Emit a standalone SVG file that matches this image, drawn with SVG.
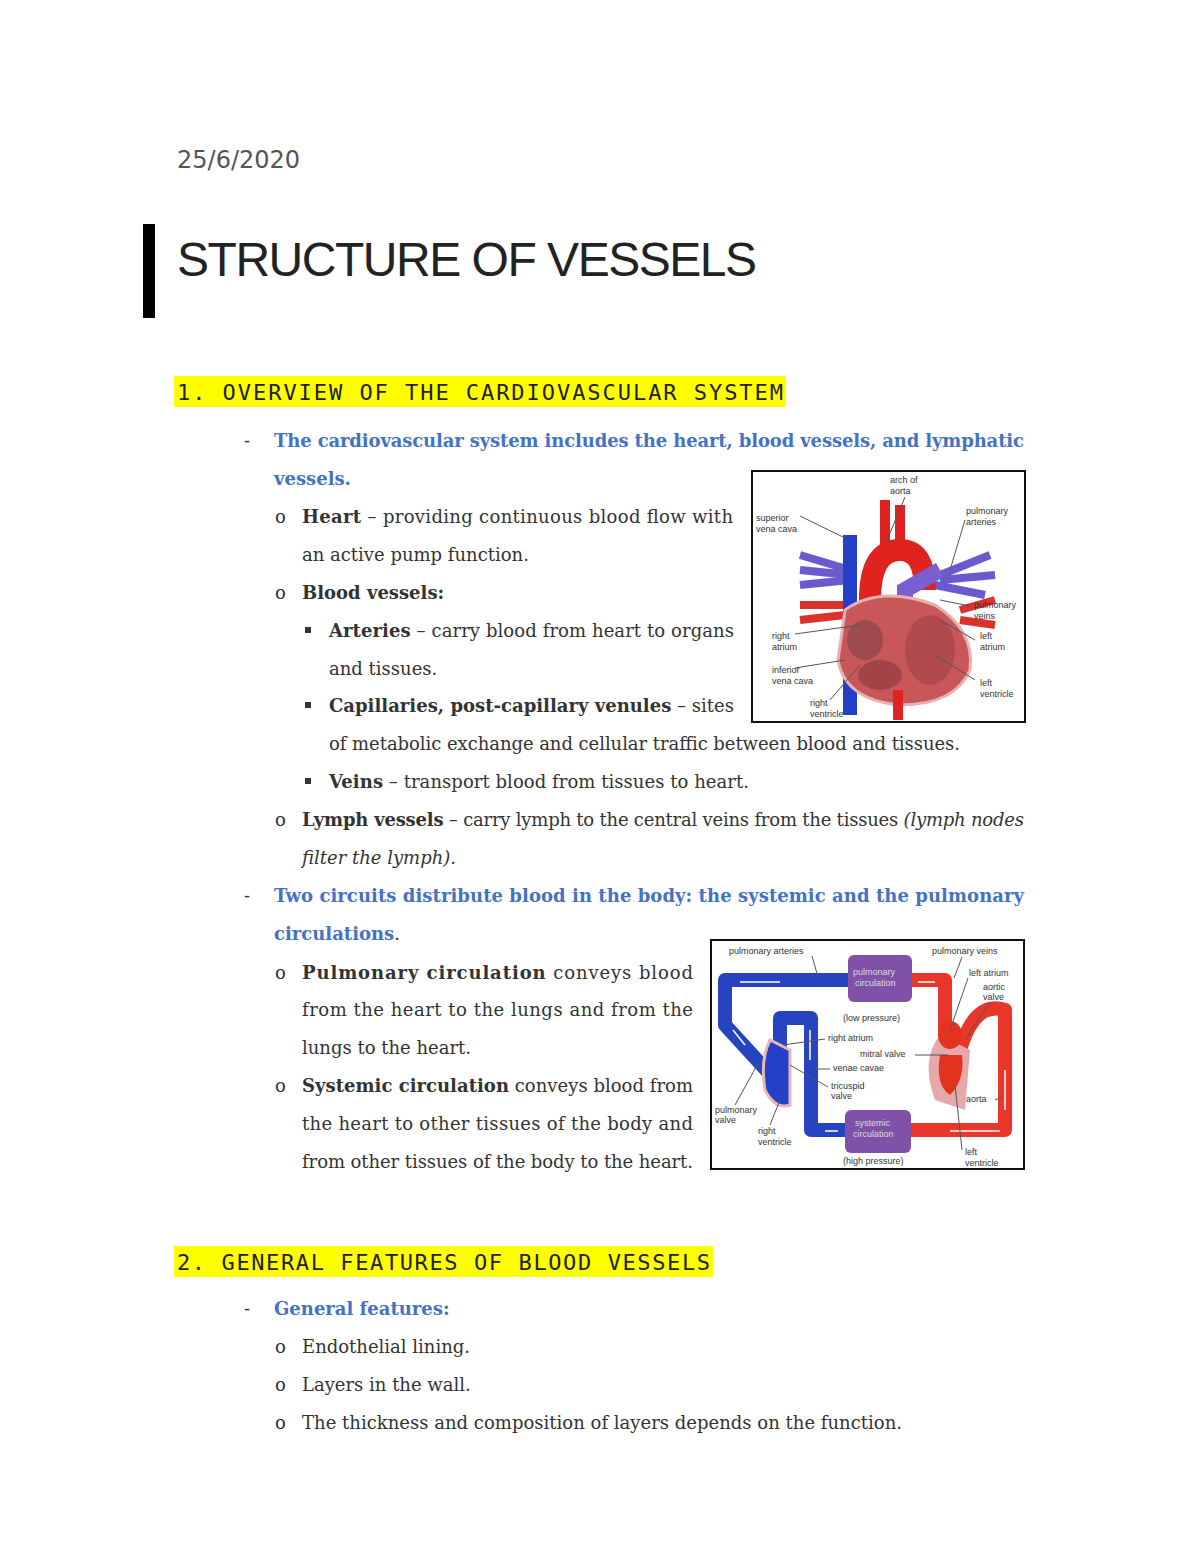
<svg xmlns="http://www.w3.org/2000/svg" width="1200" height="1553" viewBox="0 0 1200 1553">
<style>
.b{font-family:"DejaVu Serif","Liberation Serif",serif;font-size:18px;fill:#333}
.bb{font-weight:bold}
.blu{fill:#4472c4;font-weight:bold}
.h{font-family:"DejaVu Sans Mono","Liberation Mono",monospace;font-size:22px;fill:#222}
.l{font-family:"Liberation Sans",Arial,sans-serif;font-size:9px;fill:#333}
.ln{stroke:#555;stroke-width:1;fill:none}
.arr{stroke:#fff;stroke-width:1.5;fill:none}
</style>
<rect width="1200" height="1553" fill="#fff"/>
<text x="177" y="168" style="font-family:'DejaVu Sans','Liberation Sans',sans-serif;font-size:24px;fill:#555">25/6/2020</text>
<rect x="143" y="224" width="12" height="94" fill="#000"/>
<text x="177" y="276" textLength="580" style="font-family:'Liberation Sans',Arial,sans-serif;font-size:48px;fill:#222">STRUCTURE OF VESSELS</text>
<rect x="174" y="376" width="612" height="31" fill="#ffff00"/>
<text x="177" y="400" class="h" textLength="606">1. OVERVIEW OF THE CARDIOVASCULAR SYSTEM</text>
<g class="b">
<text x="244" y="447">-</text>
<text x="274" y="447" class="blu" textLength="750">The cardiovascular system includes the heart, blood vessels, and lymphatic</text>
<text x="274" y="485" class="blu">vessels.</text>
<text x="275" y="523">o</text><text x="302" y="523" textLength="431"><tspan class="bb">Heart</tspan> – providing continuous blood flow with</text>
<text x="302" y="561">an active pump function.</text>
<text x="275" y="599">o</text><text x="302" y="599" class="bb">Blood vessels:</text>
<rect x="305" y="627" width="6" height="6" fill="#333"/><text x="329" y="637" textLength="405"><tspan class="bb">Arteries</tspan> – carry blood from heart to organs</text>
<text x="329" y="675">and tissues.</text>
<rect x="305" y="702" width="6" height="6" fill="#333"/><text x="329" y="712" textLength="405"><tspan class="bb">Capillaries, post-capillary venules</tspan> – sites</text>
<text x="329" y="750" textLength="631">of metabolic exchange and cellular traffic between blood and tissues.</text>
<rect x="305" y="778" width="6" height="6" fill="#333"/><text x="329" y="788" textLength="420"><tspan class="bb">Veins</tspan> – transport blood from tissues to heart.</text>
<text x="275" y="826">o</text><text x="302" y="826" textLength="722"><tspan class="bb">Lymph vessels</tspan> – carry lymph to the central veins from the tissues <tspan font-style="italic">(lymph nodes</tspan></text>
<text x="302" y="864" font-style="italic">filter the lymph).</text>
<text x="244" y="902">-</text>
<text x="274" y="902" class="blu" textLength="750">Two circuits distribute blood in the body: the systemic and the pulmonary</text>
<text x="274" y="940" class="blu">circulations<tspan style="font-weight:normal;fill:#333">.</tspan></text>
<text x="275" y="979">o</text><text x="302" y="979" textLength="391"><tspan class="bb">Pulmonary circulation</tspan> conveys blood</text>
<text x="302" y="1016" textLength="391">from the heart to the lungs and from the</text>
<text x="302" y="1054">lungs to the heart.</text>
<text x="275" y="1092">o</text><text x="302" y="1092" textLength="391"><tspan class="bb">Systemic circulation</tspan> conveys blood from</text>
<text x="302" y="1130" textLength="391">the heart to other tissues of the body and</text>
<text x="302" y="1168" textLength="391">from other tissues of the body to the heart.</text>
<text x="244" y="1315">-</text>
<text x="274" y="1315" class="blu">General features:</text>
<text x="275" y="1353">o</text><text x="302" y="1353">Endothelial lining.</text>
<text x="275" y="1391">o</text><text x="302" y="1391">Layers in the wall.</text>
<text x="275" y="1429">o</text><text x="302" y="1429" textLength="600">The thickness and composition of layers depends on the function.</text>
</g>
<rect x="174" y="1246" width="539" height="31" fill="#ffff00"/>
<text x="177" y="1270" class="h" textLength="533">2. GENERAL FEATURES OF BLOOD VESSELS</text>

<g id="heart-figure">
<rect x="752" y="471" width="273" height="251" fill="#fff" stroke="#111" stroke-width="2"/>
<path d="M800 555 L850 570 M800 570 L850 575 M800 585 L850 580" stroke="#6a5acd" stroke-width="8" fill="none"/>
<path d="M940 575 L990 555 M940 580 L995 575 M935 585 L985 595" stroke="#6a5acd" stroke-width="8" fill="none"/>
<path d="M800 605 L850 605 M800 620 L845 615 M960 610 L995 600 M960 620 L995 625" stroke="#d9342b" stroke-width="8" fill="none"/>
<rect x="843" y="535" width="14" height="180" fill="#2540c8"/>
<path d="M870 640 L870 600 Q870 550 900 550 Q925 550 925 590" stroke="#e0231f" stroke-width="22" fill="none"/>
<rect x="880" y="500" width="10" height="50" fill="#e0231f"/><rect x="895" y="505" width="10" height="45" fill="#e0231f"/>
<path d="M905 610 L905 590 L940 570" stroke="#7a5fd0" stroke-width="16" fill="none"/>
<path d="M845 610 Q880 585 935 605 Q975 630 970 670 Q955 705 900 705 Q845 700 838 660 Z" fill="#c8575a" stroke="#e8b0b0" stroke-width="3"/>
<ellipse cx="865" cy="640" rx="18" ry="20" fill="#9e4b4e"/>
<ellipse cx="880" cy="675" rx="22" ry="15" fill="#a14448"/>
<ellipse cx="930" cy="650" rx="25" ry="35" fill="#b04a4e"/>
<rect x="893" y="690" width="10" height="30" fill="#e0231f"/>
<g class="ln"><path d="M800 516 L845 538"/><path d="M905 497 L885 545"/><path d="M965 520 L950 570"/><path d="M970 606 L940 600"/><path d="M795 634 L860 625"/><path d="M975 640 L940 620"/><path d="M795 668 L845 660"/><path d="M975 680 L935 655"/><path d="M830 700 L860 665"/></g>
<g class="l">
<text x="890" y="483">arch of</text><text x="890" y="494">aorta</text>
<text x="756" y="521">superior</text><text x="756" y="532">vena cava</text>
<text x="966" y="514">pulmonary</text><text x="966" y="525">arteries</text>
<text x="974" y="608">pulmonary</text><text x="974" y="619">veins</text>
<text x="772" y="639">right</text><text x="772" y="650">atrium</text>
<text x="980" y="639">left</text><text x="980" y="650">atrium</text>
<text x="772" y="673">inferior</text><text x="772" y="684">vena cava</text>
<text x="980" y="686">left</text><text x="980" y="697">ventricle</text>
<text x="810" y="706">right</text><text x="810" y="717">ventricle</text>
</g>
</g>

<g id="circulation-figure">
<rect x="711" y="940" width="313" height="229" fill="#fff" stroke="#111" stroke-width="2"/>
<path d="M780 1085 L725 1025 L725 980 L855 980" stroke="#2744c0" stroke-width="14" fill="none" stroke-linejoin="round"/>
<path d="M905 980 L945 980 L945 1035" stroke="#e8372a" stroke-width="14" fill="none" stroke-linejoin="round"/>
<path d="M960 1050 Q975 1000 1005 1010 L1005 1130 L905 1130" stroke="#e8372a" stroke-width="14" fill="none" stroke-linejoin="round"/>
<path d="M850 1130 L811 1130 L811 1018 L780 1018 L780 1050" stroke="#2744c0" stroke-width="14" fill="none" stroke-linejoin="round"/>
<rect x="848" y="955" width="64" height="47" rx="6" fill="#7f52a8"/>
<rect x="845" y="1110" width="66" height="43" rx="6" fill="#7f52a8"/>
<path d="M770 1040 Q760 1060 765 1090 Q775 1110 790 1105 L790 1050 Z" fill="#2540c8" stroke="#e8b8b8" stroke-width="3"/>
<path d="M940 1035 Q920 1060 935 1100 L965 1110 L970 1050 Z" fill="#e5a9a9"/>
<ellipse cx="950" cy="1035" rx="12" ry="14" fill="#e3321f"/>
<path d="M940 1055 Q935 1085 950 1095 Q965 1080 962 1055 Z" fill="#e3321f"/>
<g class="arr"><path d="M740 982 L780 982"/><path d="M918 982 L935 982"/><path d="M1005 1070 L1005 1110"/><path d="M1000 1131 L950 1131"/><path d="M838 1131 L825 1131"/><path d="M810 1060 L810 1030"/><path d="M745 1045 L733 1030"/></g>
<g class="ln"><path d="M812 956 L818 977"/><path d="M962 957 L954 978"/><path d="M968 978 L950 1030"/><path d="M990 1002 L965 1040"/><path d="M825 1039 L783 1045"/><path d="M915 1055 L948 1055"/><path d="M830 1069 L813 1069"/><path d="M828 1087 L790 1065"/><path d="M735 1105 L760 1060"/><path d="M770 1125 L780 1100"/><path d="M962 1150 L955 1085"/><path d="M995 1100 L1002 1097"/></g>
<g class="l">
<text x="729" y="954">pulmonary arteries</text>
<text x="932" y="954">pulmonary veins</text>
<text x="853" y="975" style="fill:#ddd">pulmonary</text><text x="855" y="986" style="fill:#ddd">circulation</text>
<text x="969" y="976">left atrium</text>
<text x="983" y="990">aortic</text><text x="983" y="1000">valve</text>
<text x="843" y="1021">(low pressure)</text>
<text x="828" y="1041">right atrium</text>
<text x="860" y="1057">mitral valve</text>
<text x="833" y="1071">venae cavae</text>
<text x="831" y="1089">tricuspid</text><text x="831" y="1099">valve</text>
<text x="966" y="1102">aorta</text>
<text x="715" y="1113">pulmonary</text><text x="715" y="1123">valve</text>
<text x="758" y="1134">right</text><text x="758" y="1145">ventricle</text>
<text x="855" y="1126" style="fill:#ddd">systemic</text><text x="853" y="1137" style="fill:#ddd">circulation</text>
<text x="843" y="1164">(high pressure)</text>
<text x="965" y="1155">left</text><text x="965" y="1166">ventricle</text>
</g>
</g>
</svg>
